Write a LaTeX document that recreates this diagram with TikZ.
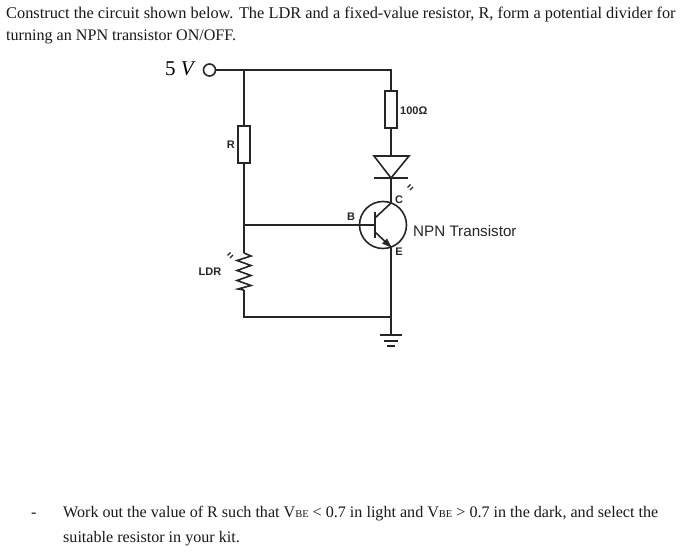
\documentclass[tikz,border=0pt]{standalone}
\usepackage{fontspec}
\setmainfont{Liberation Serif}
\newfontfamily\arialf{Liberation Sans}
\usetikzlibrary{arrows.meta}
\tikzset{
 wire/.style={line width=1.6pt,draw=black!85},
 resbox/.style={draw=black!85,line width=1.6pt,rectangle,minimum width=12pt,minimum height=37pt,inner sep=0pt,fill=white},
 para/.style={anchor=base west,inner sep=0pt,font=\fontsize{16.1}{18}\selectfont,text=black!90},
 tag/.style={inner sep=0pt,font=\arialf\bfseries\fontsize{11}{13}\selectfont,text=black!85}
}
\begin{document}
\begin{tikzpicture}[x=1pt,y=-1pt]
\useasboundingbox (0,0) rectangle (681,553);
\fill[white] (0,0) rectangle (681,553);
% text
\node[para,font=\fontsize{16.35}{18}\selectfont] (t1) at (6,19) {Construct the circuit shown below. The LDR and a fixed-value resistor, R, form a potential divider for};
\node[para] (t2) at (6,41) {turning an NPN transistor ON/OFF.};
\node[para] (d) at (31,518) {-};
\node[para] (t3) at (63,518) {Work out the value of R such that V{\fontsize{10.5}{11}\selectfont BE} < 0.7 in light and V{\fontsize{10.5}{11}\selectfont BE} > 0.7 in the dark, and select the};
\node[para] (t4) at (63,543) {suitable resistor in your kit.};
% supply
\node[draw=black!85,line width=1.6pt,circle,minimum size=12pt,inner sep=0pt] (vcc) at (209.5,70) {};
\node[inner sep=0pt,anchor=east,font=\fontsize{21}{24}\selectfont] (vl) at (196,69) {5 \textit{V}};
\coordinate (j1) at (244,70);
\coordinate (c1) at (391,70);
% components
\node[resbox] (r) at (244,144.5) {};
\node[resbox] (r100) at (391,109.5) {};
\node[tag,anchor=east] (rl) at (235,145) {R};
\node[tag,anchor=west] (r100l) at (400,111) {100Ω};
% diode
\coordinate (dtop) at (391,156);
\coordinate (dl) at (374,156);
\coordinate (dr) at (409,156);
\coordinate (dk) at (391,178);
\coordinate (bl) at (374,178);
\coordinate (br) at (408,178);
% transistor
\node[draw=black!85,line width=1.6pt,circle,minimum size=47pt,inner sep=0pt] (q) at (383,225) {};
\coordinate (coll) at (391,203);
\coordinate (emit) at (391,247);
\coordinate (bb) at (375,225);
\coordinate (bt) at (375,212);
\coordinate (bd) at (375,238);
\coordinate (ct) at (375,218);
\coordinate (et) at (375,232);
\node[tag,anchor=center] (cl) at (399,200) {C};
\node[tag,anchor=center] (bl2) at (351,217) {B};
\node[tag,anchor=center] (el) at (399,252) {E};
\node[inner sep=0pt,anchor=west,font=\arialf\fontsize{15.2}{17}\selectfont,text=black!85] (nl) at (413,231) {NPN Transistor};
% LDR
\coordinate (j2) at (244,225);
\coordinate (ldt) at (244,253);
\coordinate (ldb) at (244,290);
\coordinate (j3) at (244,317);
\coordinate (j4) at (391,317);
\coordinate (g) at (391,335);
\node[tag,anchor=center] (ldrl) at (210,272) {LDR};
% wires
\draw[wire] (vcc) -- (j1) -- (c1) -- (r100);
\draw[wire] (j1) -- (r);
\draw[wire] (r) -- (j2);
\draw[wire] (r100) -- (dtop);
\draw[wire] (dl) -- (dr) -- (dk) -- cycle;
\draw[wire] (bl) -- (br);
\draw[wire] (dk) -- (coll);
\draw[wire] (j2) -- (bb);
\draw[wire,line width=1.8pt] (bt) -- (bd);
\draw[wire] (ct) -- (coll);
\draw[wire] (et) -- (emit);
\draw[black!85,fill=black!85] (391,247) -- (382.5,243.5) -- (387,239) -- cycle;
\draw[wire] (emit) -- (j4);
\draw[wire] (j2) -- (ldt);
\draw[wire,line join=miter] (ldt) -- (251,256) -- (237,260.5) -- (251,265.5) -- (237,270.5) -- (251,275.5) -- (237,280.5) -- (251,285.5) -- (238,289) -- (ldb);
\draw[wire] (ldb) -- (j3) -- (j4) -- (g);
\draw[wire,line width=2pt] (380,335) -- (402,335);
\draw[wire,line width=2pt] (384,340.7) -- (398,340.7);
\draw[wire,line width=2pt] (387,346.3) -- (395,346.3);
% light marks
\draw[line width=1.2pt,black!85] (407.5,187.5) -- (410.5,184.5) (410,190) -- (413,187);
\draw[line width=1.2pt,black!85] (227.5,255.5) -- (230.5,252.5) (230,258) -- (233,255);
\end{tikzpicture}
\end{document}
